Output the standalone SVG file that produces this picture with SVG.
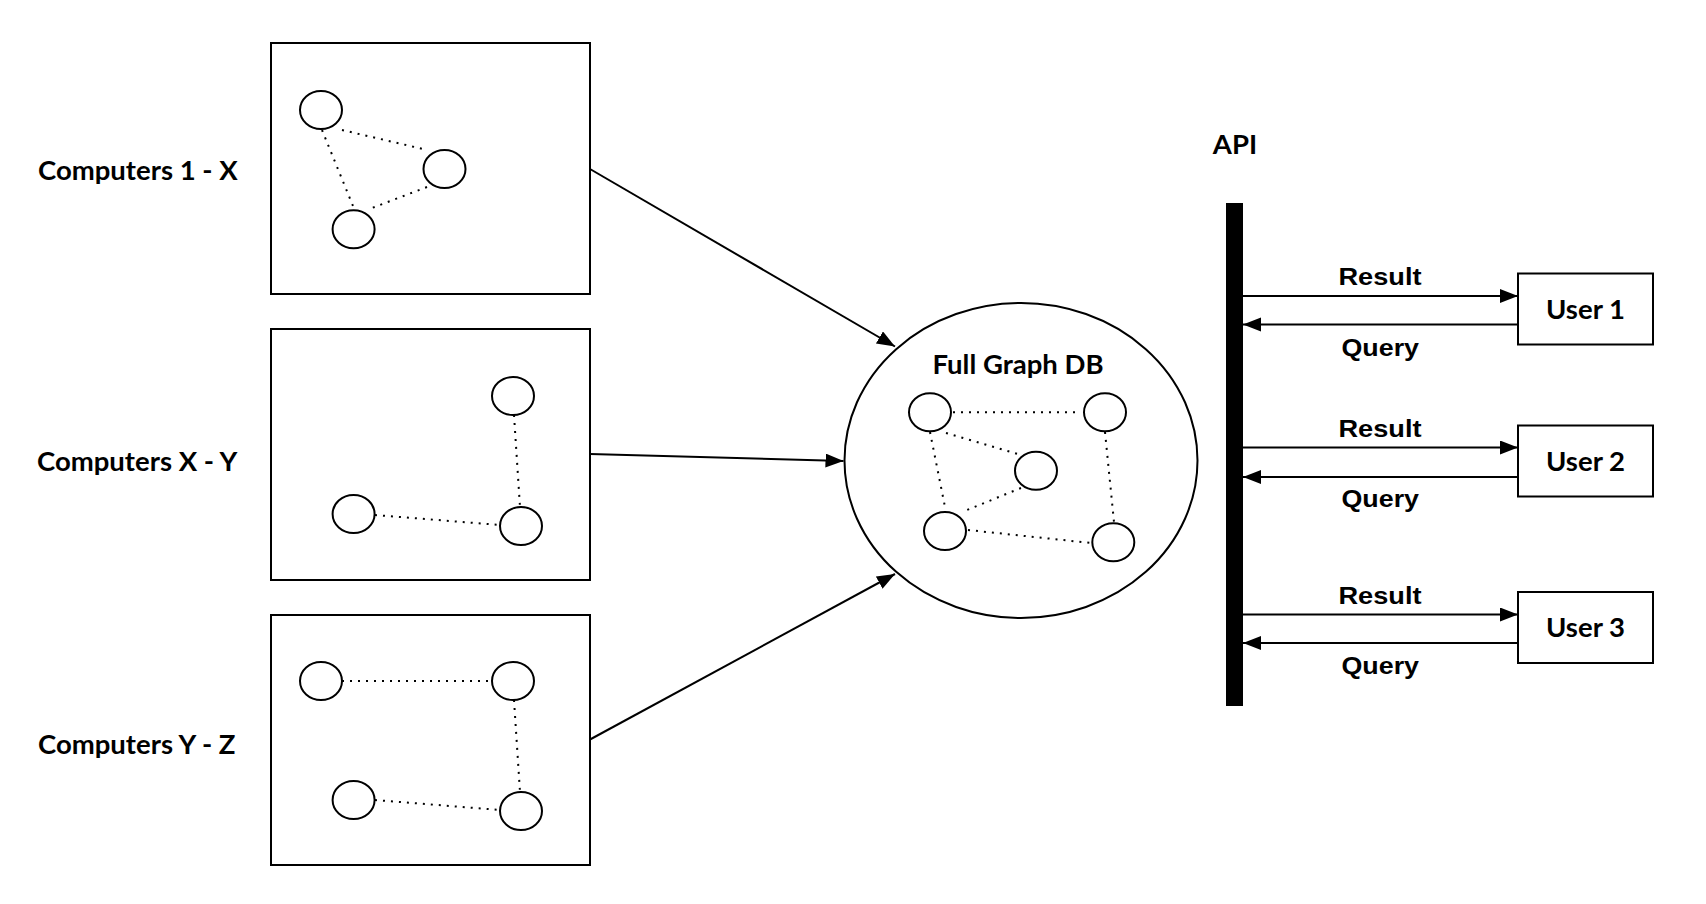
<svg xmlns="http://www.w3.org/2000/svg" width="1706" height="904" viewBox="0 0 1706 904">
<style>
.box{fill:#fff;stroke:#000;stroke-width:2}
.nd{fill:#fff;stroke:#000;stroke-width:2}
.dot{stroke:#000;stroke-width:2;stroke-dasharray:2 6;fill:none}
.lbl{font-family:Lato,"Liberation Sans",sans-serif;font-weight:bold;font-size:27.5px;fill:#000}
.arl{font-family:"Liberation Sans",Arial,sans-serif;font-weight:bold;font-size:24px;fill:#000}
.mid{text-anchor:middle}
.con{stroke:#000;stroke-width:2;fill:none}
</style>
<defs>
<marker id="ah" markerUnits="userSpaceOnUse" markerWidth="20" markerHeight="16" refX="18" refY="7" orient="auto">
<path d="M0,0 L18,7 L0,14 z" fill="#000"/>
</marker>
</defs>
<rect width="1706" height="904" fill="#fff"/>

<g id="label-1x"><text class="lbl" x="38" y="180">Computers 1 - X</text></g>
<g id="label-xy"><text class="lbl" x="37" y="471">Computers X - Y</text></g>
<g id="label-yz"><text class="lbl" x="38" y="754">Computers Y - Z</text></g>

<g id="cluster-1x">
<rect class="box" x="271" y="43" width="319" height="251"/>
<line class="dot" x1="342" y1="130" x2="423" y2="149"/>
<line class="dot" x1="322" y1="130" x2="353" y2="206"/>
<line class="dot" x1="427" y1="187" x2="372" y2="208"/>
<ellipse class="nd" cx="321" cy="110" rx="21" ry="19"/>
<ellipse class="nd" cx="444.5" cy="169" rx="21" ry="19"/>
<ellipse class="nd" cx="353.6" cy="229.3" rx="21" ry="19"/>
</g>

<g id="cluster-xy">
<rect class="box" x="271" y="329" width="319" height="251"/>
<line class="dot" x1="514" y1="415" x2="520" y2="507"/>
<line class="dot" x1="375" y1="515" x2="500" y2="525"/>
<ellipse class="nd" cx="513" cy="396" rx="21" ry="19"/>
<ellipse class="nd" cx="353.6" cy="514" rx="21" ry="19"/>
<ellipse class="nd" cx="521" cy="526" rx="21" ry="19"/>
</g>

<g id="cluster-yz">
<rect class="box" x="271" y="615" width="319" height="250"/>
<line class="dot" x1="342" y1="681" x2="492" y2="681"/>
<line class="dot" x1="514" y1="700" x2="520" y2="792"/>
<line class="dot" x1="375" y1="800" x2="500" y2="810"/>
<ellipse class="nd" cx="321" cy="681" rx="21" ry="19"/>
<ellipse class="nd" cx="513" cy="681" rx="21" ry="19"/>
<ellipse class="nd" cx="353.6" cy="800" rx="21" ry="19"/>
<ellipse class="nd" cx="521" cy="811" rx="21" ry="19"/>
</g>

<g id="full-graph-db">
<ellipse class="box" cx="1021" cy="460.5" rx="176.5" ry="157.5"/>
<text class="lbl mid" x="1018" y="374">Full Graph DB</text>
<line class="dot" x1="953" y1="412.3" x2="1078" y2="412.3"/>
<line class="dot" x1="946" y1="433" x2="1021" y2="455"/>
<line class="dot" x1="930" y1="432" x2="945" y2="507"/>
<line class="dot" x1="1105" y1="432" x2="1114" y2="522"/>
<line class="dot" x1="1021" y1="488" x2="962" y2="512"/>
<line class="dot" x1="968" y1="530" x2="1091" y2="543"/>
<ellipse class="nd" cx="930" cy="412.3" rx="21" ry="19"/>
<ellipse class="nd" cx="1105" cy="412.3" rx="21" ry="19"/>
<ellipse class="nd" cx="1036" cy="470.7" rx="21" ry="19"/>
<ellipse class="nd" cx="945" cy="531" rx="21" ry="19"/>
<ellipse class="nd" cx="1113.3" cy="542.3" rx="21" ry="19"/>
</g>

<g id="api">
<text class="lbl mid" x="1235" y="154">API</text>
<rect x="1226" y="203" width="17" height="503" fill="#000"/>
</g>

<g id="user-1">
<rect class="box" x="1518" y="273.5" width="135" height="71"/>
<text class="lbl mid" x="1585.5" y="319">User 1</text>
</g>
<g id="user-2">
<rect class="box" x="1518" y="425.5" width="135" height="71"/>
<text class="lbl mid" x="1585.5" y="471">User 2</text>
</g>
<g id="user-3">
<rect class="box" x="1518" y="592" width="135" height="71"/>
<text class="lbl mid" x="1585.5" y="637">User 3</text>
</g>

<g id="connectors">
<line class="con" x1="590" y1="169" x2="895" y2="346.5" marker-end="url(#ah)"/>
<line class="con" x1="590" y1="454" x2="843.5" y2="461" marker-end="url(#ah)"/>
<line class="con" x1="590" y1="739.5" x2="895" y2="574" marker-end="url(#ah)"/>

<line class="con" x1="1243" y1="296" x2="1518" y2="296" marker-end="url(#ah)"/>
<line class="con" x1="1518" y1="324.5" x2="1243" y2="324.5" marker-end="url(#ah)"/>
<line class="con" x1="1243" y1="447.5" x2="1518" y2="447.5" marker-end="url(#ah)"/>
<line class="con" x1="1518" y1="477" x2="1243" y2="477" marker-end="url(#ah)"/>
<line class="con" x1="1243" y1="614.5" x2="1518" y2="614.5" marker-end="url(#ah)"/>
<line class="con" x1="1518" y1="643" x2="1243" y2="643" marker-end="url(#ah)"/>

<text class="arl" x="1338.5" y="285" textLength="83" lengthAdjust="spacingAndGlyphs">Result</text>
<text class="arl" x="1341.5" y="355.5" textLength="77.5" lengthAdjust="spacingAndGlyphs">Query</text>
<text class="arl" x="1338.5" y="436.5" textLength="83" lengthAdjust="spacingAndGlyphs">Result</text>
<text class="arl" x="1341.5" y="507" textLength="77.5" lengthAdjust="spacingAndGlyphs">Query</text>
<text class="arl" x="1338.5" y="603.5" textLength="83" lengthAdjust="spacingAndGlyphs">Result</text>
<text class="arl" x="1341.5" y="673.5" textLength="77.5" lengthAdjust="spacingAndGlyphs">Query</text>
</g>
</svg>
